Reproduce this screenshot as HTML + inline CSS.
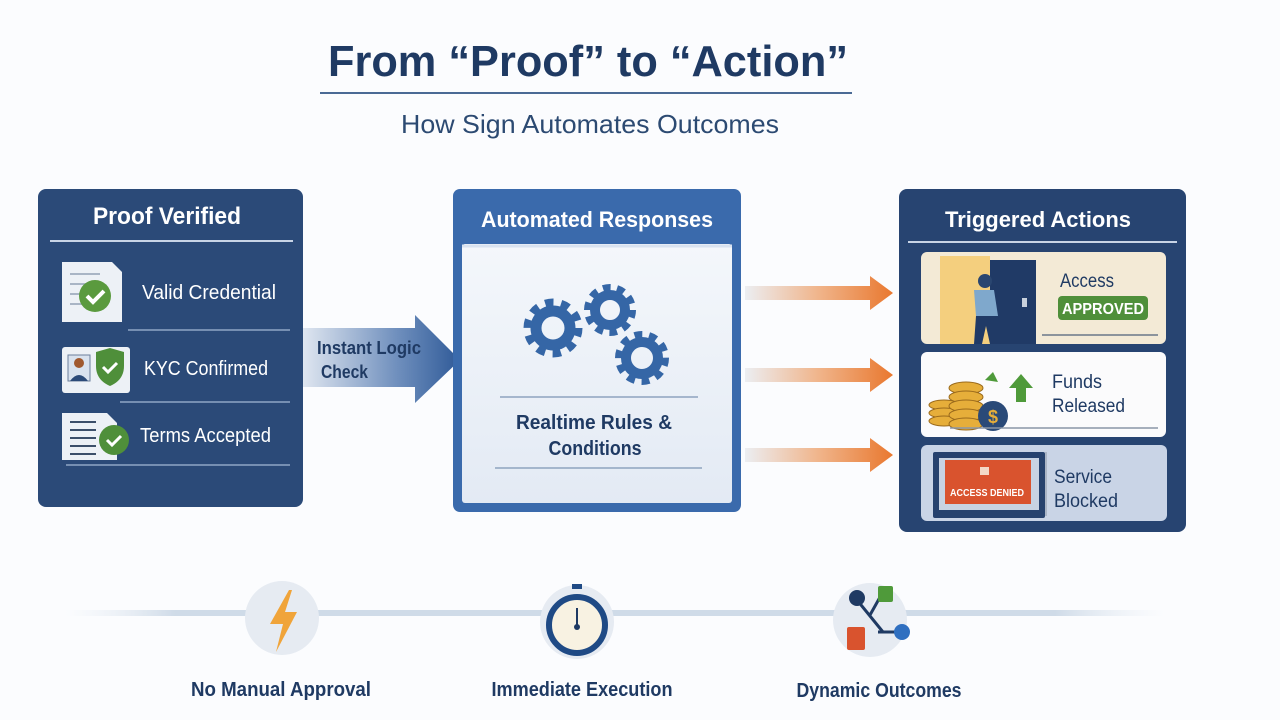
<!DOCTYPE html>
<html><head><meta charset="utf-8"><style>
html,body{margin:0;padding:0;background:#fbfcfe;}
svg{display:block;font-family:"Liberation Sans",sans-serif;}
</style></head><body>
<svg width="1280" height="720" viewBox="0 0 1280 720" xmlns="http://www.w3.org/2000/svg">
<defs>
<linearGradient id="ga" x1="0" x2="1"><stop offset="0" stop-color="#dfe6f0"/><stop offset="0.6" stop-color="#6f8fbd"/><stop offset="1" stop-color="#2f5a98"/></linearGradient>
<linearGradient id="go" x1="0" x2="1"><stop offset="0" stop-color="#eceef2"/><stop offset="0.5" stop-color="#f0b48a"/><stop offset="1" stop-color="#e9782f"/></linearGradient>
<linearGradient id="gl" x1="0" x2="1"><stop offset="0" stop-color="#e8eef5" stop-opacity="0"/><stop offset="0.1" stop-color="#cfdbe8"/><stop offset="0.9" stop-color="#cfdbe8"/><stop offset="1" stop-color="#e8eef5" stop-opacity="0"/></linearGradient>
<linearGradient id="gin" x1="0" y1="0" x2="0" y2="1"><stop offset="0" stop-color="#f4f7fb"/><stop offset="1" stop-color="#e3eaf4"/></linearGradient>
</defs>
<rect width="1280" height="720" fill="#fbfcfe"/>
<text x="588" y="76" text-anchor="middle" font-size="44" font-weight="bold" fill="#1f3a63" textLength="520" lengthAdjust="spacingAndGlyphs">From “Proof” to “Action”</text>
<line x1="320" y1="93" x2="852" y2="93" stroke="#4a6a95" stroke-width="2"/>
<text x="590" y="133" text-anchor="middle" font-size="26" fill="#2c4a72" textLength="378" lengthAdjust="spacingAndGlyphs">How Sign Automates Outcomes</text>

<rect x="38" y="189" width="265" height="318" rx="8" fill="#2b4a78"/>
<text x="167" y="224" text-anchor="middle" font-size="24" font-weight="bold" fill="#fff" textLength="148" lengthAdjust="spacingAndGlyphs">Proof Verified</text>
<line x1="50" y1="241" x2="293" y2="241" stroke="#c8d4e6" stroke-width="2"/>
<path d="M62 262 H112 L122 272 V322 H62 Z" fill="#edf1f6"/>
<g stroke="#a9b5c5" stroke-width="2"><line x1="70" y1="274" x2="100" y2="274"/><line x1="70" y1="284" x2="90" y2="284"/><line x1="70" y1="294" x2="85" y2="294"/><line x1="70" y1="304" x2="88" y2="304"/></g>
<circle cx="95" cy="296" r="16" fill="#5a9a3e"/>
<path d="M87 296 l6 6 l11 -11" stroke="#fff" stroke-width="4" fill="none"/>
<text x="142" y="299" font-size="20" fill="#fff" textLength="134" lengthAdjust="spacingAndGlyphs">Valid Credential</text>
<line x1="128" y1="330" x2="290" y2="330" stroke="#8fa6c6" stroke-width="1.5"/>
<rect x="62" y="347" width="68" height="46" rx="3" fill="#edf1f6"/>
<rect x="68" y="355" width="22" height="26" fill="#d9e2ee" stroke="#6a7f9c"/>
<circle cx="79" cy="363" r="5" fill="#a0582e"/><path d="M70 381 q9 -12 18 0z" fill="#2b4a78"/>
<path d="M96 352 l14 -4 l14 4 v14 q0 14 -14 20 q-14 -6 -14 -20z" fill="#4f8f3a"/>
<path d="M103 367 l5 5 l9 -9" stroke="#fff" stroke-width="3" fill="none"/>
<text x="144" y="375" font-size="20" fill="#fff" textLength="124" lengthAdjust="spacingAndGlyphs">KYC Confirmed</text>
<line x1="120" y1="402" x2="290" y2="402" stroke="#8fa6c6" stroke-width="1.5"/>
<path d="M62 413 H107 L117 423 V460 H62 Z" fill="#edf1f6"/>
<g stroke="#3c4f6a" stroke-width="2"><line x1="70" y1="422" x2="96" y2="422"/><line x1="70" y1="430" x2="96" y2="430"/><line x1="70" y1="438" x2="96" y2="438"/><line x1="70" y1="446" x2="96" y2="446"/><line x1="70" y1="454" x2="96" y2="454"/></g>
<circle cx="114" cy="440" r="15" fill="#4f8f3a"/>
<path d="M107 440 l5 5 l9 -9" stroke="#fff" stroke-width="3" fill="none"/>
<text x="140" y="442" font-size="20" fill="#fff" textLength="131" lengthAdjust="spacingAndGlyphs">Terms Accepted</text>
<line x1="66" y1="465" x2="290" y2="465" stroke="#8fa6c6" stroke-width="1.5"/>

<path d="M303 328 H415 V315 L460 360 L415 403 V387 H303 Z" fill="url(#ga)"/>
<text x="317" y="354" font-size="18" font-weight="bold" fill="#1f3a63" textLength="104" lengthAdjust="spacingAndGlyphs">Instant Logic</text>
<text x="321" y="378" font-size="18" font-weight="bold" fill="#1f3a63" textLength="47" lengthAdjust="spacingAndGlyphs">Check</text>

<rect x="453" y="189" width="288" height="323" rx="7" fill="#3a6aac"/>
<rect x="462" y="244" width="270" height="259" rx="3" fill="url(#gin)"/>
<line x1="462" y1="246" x2="732" y2="246" stroke="#d8e2f0" stroke-width="3"/>
<text x="597" y="227" text-anchor="middle" font-size="22" font-weight="bold" fill="#fff" textLength="232" lengthAdjust="spacingAndGlyphs">Automated Responses</text>
<g fill="none" stroke="#3566a6">
<circle cx="553" cy="328" r="17" stroke-width="11"/>
<circle cx="553" cy="328" r="25" stroke-width="9" stroke-dasharray="8.2 7.5"/>
<circle cx="610" cy="310" r="15" stroke-width="10"/>
<circle cx="610" cy="310" r="22" stroke-width="8" stroke-dasharray="7.5 6.3"/>
<circle cx="642" cy="358" r="16" stroke-width="10"/>
<circle cx="642" cy="358" r="23" stroke-width="8" stroke-dasharray="7.7 6.7"/>
</g>
<line x1="500" y1="397" x2="698" y2="397" stroke="#8ea3bf" stroke-width="1.5"/>
<text x="594" y="429" text-anchor="middle" font-size="20" font-weight="bold" fill="#1f3a63" textLength="156" lengthAdjust="spacingAndGlyphs">Realtime Rules &amp;</text>
<text x="595" y="455" text-anchor="middle" font-size="20" font-weight="bold" fill="#1f3a63" textLength="93" lengthAdjust="spacingAndGlyphs">Conditions</text>
<line x1="495" y1="468" x2="702" y2="468" stroke="#8ea3bf" stroke-width="1.5"/>

<g fill="url(#go)">
<path d="M745 286 H870 V276 L893 293 L870 310 V300 H745 Z"/>
<path d="M745 368 H870 V358 L893 375 L870 392 V382 H745 Z"/>
<path d="M745 448 H870 V438 L893 455 L870 472 V462 H745 Z"/>
</g>

<rect x="899" y="189" width="287" height="343" rx="8" fill="#274471"/>
<text x="1038" y="227" text-anchor="middle" font-size="22" font-weight="bold" fill="#fff" textLength="186" lengthAdjust="spacingAndGlyphs">Triggered Actions</text>
<line x1="908" y1="242" x2="1177" y2="242" stroke="#c8d4e6" stroke-width="2"/>
<rect x="921" y="252" width="245" height="92" rx="6" fill="#f3ead6"/>
<rect x="940" y="256" width="50" height="88" fill="#f4cf7e"/>
<rect x="990" y="260" width="46" height="84" fill="#203a66"/>
<rect x="1022" y="298" width="5" height="9" fill="#c8d0dc"/>
<circle cx="985" cy="281" r="7" fill="#2a4670"/>
<path d="M974 290 h20 l4 26 h-22z" fill="#7fa8cc"/>
<path d="M976 316 h18 l4 28 h-8 l-4 -18 l-4 18 h-8z" fill="#203a66"/>
<text x="1060" y="287" font-size="19" fill="#1f3a63" textLength="54" lengthAdjust="spacingAndGlyphs">Access</text>
<rect x="1058" y="296" width="90" height="24" rx="4" fill="#4f8f3a"/>
<text x="1103" y="314" text-anchor="middle" font-size="16" font-weight="bold" fill="#fff" textLength="82" lengthAdjust="spacingAndGlyphs">APPROVED</text>
<line x1="1042" y1="335" x2="1158" y2="335" stroke="#6b7888" stroke-width="1.5"/>
<rect x="921" y="352" width="245" height="85" rx="6" fill="#fbfbfc"/>
<g fill="#e6ae3a" stroke="#9a6a1c" stroke-width="1">
<ellipse cx="944" cy="405" rx="15" ry="5"/><ellipse cx="944" cy="413" rx="15" ry="5"/><ellipse cx="944" cy="421" rx="15" ry="5"/>
<ellipse cx="966" cy="388" rx="17" ry="6"/><ellipse cx="966" cy="397" rx="17" ry="6"/><ellipse cx="966" cy="406" rx="17" ry="6"/><ellipse cx="966" cy="415" rx="17" ry="6"/><ellipse cx="966" cy="424" rx="17" ry="6"/>
</g>
<circle cx="993" cy="416" r="15" fill="#2a4a78"/>
<text x="993" y="423" text-anchor="middle" font-size="18" font-weight="bold" fill="#e6ae3a">$</text>
<path d="M1016 402 V388 h-7 l12 -14 l12 14 h-7 v14z" fill="#4f9a3a"/>
<path d="M985 380 l8 -8 l5 10z" fill="#4f9a3a"/>
<text x="1052" y="388" font-size="19" fill="#1f3a63" textLength="50" lengthAdjust="spacingAndGlyphs">Funds</text>
<text x="1052" y="412" font-size="19" fill="#1f3a63" textLength="73" lengthAdjust="spacingAndGlyphs">Released</text>
<line x1="950" y1="428" x2="1158" y2="428" stroke="#8a96a6" stroke-width="1.5"/>
<rect x="921" y="445" width="246" height="76" rx="6" fill="#c9d4e6"/>
<rect x="933" y="452" width="112" height="66" rx="2" fill="#26426e"/>
<rect x="939" y="458" width="100" height="52" fill="#c8d3e2"/>
<rect x="945" y="460" width="86" height="44" fill="#d9532e"/>
<rect x="980" y="467" width="9" height="8" fill="#f3d9c6"/>
<text x="987" y="496" text-anchor="middle" font-size="10" font-weight="bold" fill="#fff" textLength="74" lengthAdjust="spacingAndGlyphs">ACCESS DENIED</text>
<line x1="1046" y1="452" x2="1046" y2="516" stroke="#8a96a6"/>
<text x="1054" y="483" font-size="19" fill="#1f3a63" textLength="58" lengthAdjust="spacingAndGlyphs">Service</text>
<text x="1054" y="507" font-size="19" fill="#1f3a63" textLength="64" lengthAdjust="spacingAndGlyphs">Blocked</text>

<rect x="65" y="610" width="1100" height="6" fill="url(#gl)"/>
<circle cx="282" cy="618" r="37" fill="#e6ebf2"/>
<path d="M289 590 L270 624 H283 L276 652 L297 612 H285 L292 590Z" fill="#f0a43a"/>
<circle cx="577" cy="622" r="37" fill="#e6ebf2"/>
<rect x="572" y="584" width="10" height="5" fill="#1f4a85"/>
<circle cx="577" cy="625" r="28" fill="#f8f2e2" stroke="#1f4a85" stroke-width="6"/>
<circle cx="577" cy="627" r="3" fill="#1f3a63"/><line x1="577" y1="608" x2="577" y2="627" stroke="#1f3a63" stroke-width="2"/>
<circle cx="870" cy="620" r="37" fill="#e6ebf2"/>
<line x1="857" y1="600" x2="883" y2="632" stroke="#1f3a63" stroke-width="3"/>
<line x1="870" y1="615" x2="884" y2="590" stroke="#1f3a63" stroke-width="3"/>
<line x1="878" y1="632" x2="902" y2="632" stroke="#1f3a63" stroke-width="3"/>
<circle cx="857" cy="598" r="8" fill="#1f3a63"/>
<rect x="878" y="586" width="15" height="16" rx="2" fill="#4f9a3a"/>
<circle cx="902" cy="632" r="8" fill="#2f6fc0"/>
<rect x="847" y="627" width="18" height="23" rx="2" fill="#d9532e"/>
<text x="281" y="696" text-anchor="middle" font-size="20" font-weight="bold" fill="#1f3a63" textLength="180" lengthAdjust="spacingAndGlyphs">No Manual Approval</text>
<text x="582" y="696" text-anchor="middle" font-size="20" font-weight="bold" fill="#1f3a63" textLength="181" lengthAdjust="spacingAndGlyphs">Immediate Execution</text>
<text x="879" y="697" text-anchor="middle" font-size="20" font-weight="bold" fill="#1f3a63" textLength="165" lengthAdjust="spacingAndGlyphs">Dynamic Outcomes</text>
</svg>
</body></html>
